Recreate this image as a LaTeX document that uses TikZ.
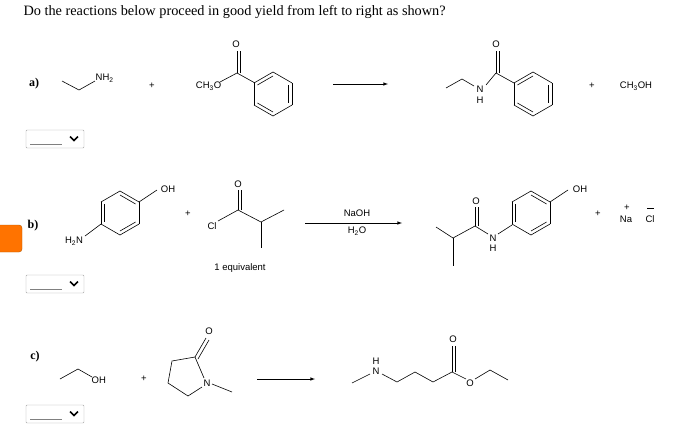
\documentclass[tikz,border=0pt]{standalone}
\usepackage{fontspec}
\setmainfont{Liberation Sans}
\newfontfamily\serifx{Liberation Serif}
\tikzset{bd/.style={line width=0.6pt},lab/.style={inner sep=0.5pt,font=\fontsize{9.5}{10}\selectfont},
 rxarrow/.style={line width=0.6pt,-latex},dd/.style={draw=gray!70,fill=white,rounded corners=1pt}}
\newcommand{\benzx}[2]{% center, inner-bond edges
 \foreach \i in {0,...,5}{\draw[bd] ($(#1)+(90+60*\i:22)$) -- ($(#1)+(150+60*\i:22)$);}
 \foreach \i in {#2}{\draw[bd] ($(#1)+(90+60*\i:18)$) -- ($(#1)+(150+60*\i:18)$);}}
\newcommand{\dropdown}[1]{\draw[dd] (26,#1) rectangle (84,#1+18);
 \draw[gray,line width=1pt] (30,#1+14) -- (62,#1+14);
 \draw[line width=1.6pt] (70,#1+6.5) -- (74,#1+10.5) -- (78,#1+6.5);}
\usetikzlibrary{calc}
\begin{document}
\begin{tikzpicture}[x=1pt,y=-1pt]
\useasboundingbox (0,0) rectangle (677,437);
\node[anchor=west,font=\serifx\fontsize{14.3}{15}\selectfont] (title) at (20,12) {Do the reactions below proceed in good yield from left to right as shown?};
% a
\node[font=\serifx\bfseries\fontsize{12}{13}\selectfont] (la) at (34,84) {a)};
\draw[bd] (62,81) -- (79,90) -- (95,81);
\node[lab,anchor=west] (nh2) at (95,78) {NH\textsubscript{2}};
\node[lab] at (152,86) {+};
\node[lab,anchor=east] (och3) at (222,86) {CH\textsubscript{3}O};
\draw[bd] (220,82) -- (237,73);
\draw[bd] (237,73) -- (237,51); \draw[bd] (240,73) -- (240,51);
\node[lab] at (236,44) {O};
\draw[bd] (237,73) -- (255,83);
\benzx{273,94}{0,2,4}
\draw[rxarrow] (333,84) -- (388,84);
\draw[bd] (446,88) -- (462,79) -- (474,86);
\node[lab] at (480,89) {N}; \node[lab] at (480,100) {H};
\draw[bd] (486,85) -- (496,73);
\draw[bd] (496,73) -- (496,51); \draw[bd] (499,73) -- (499,51);
\node[lab] at (496,44) {O};
\draw[bd] (496,73) -- (514,83);
\benzx{533,94}{0,2,4}
\node[lab] at (592,86) {+};
\node[lab] at (636,86) {CH\textsubscript{3}OH};
\dropdown{130}
% b
\draw[fill=orange!90!red,draw=orange!70!black,rounded corners=3pt] (-6,225) rectangle (22,252);
\node[font=\serifx\bfseries\fontsize{12}{13}\selectfont] (lb) at (33,226) {b)};
\benzx{120,213}{1,3,5}
\node[lab] (h2n) at (74,241) {H\textsubscript{2}N};
\draw[bd] (85,236) -- (101,224);
\draw[bd] (139,202) -- (157,190);
\node[lab] at (168,189) {OH};
\node[lab] at (188,214) {+};
\node[lab] at (212,226) {Cl};
\draw[bd] (218,221) -- (238,210);
\draw[bd] (238,210) -- (238,190); \draw[bd] (241,210) -- (241,190);
\node[lab] at (238,184) {O};
\draw[bd] (238,210) -- (261,222) -- (284,210);
\draw[bd] (261,222) -- (261,248);
\node[lab] at (240,268) {1 equivalent};
\draw[rxarrow] (305,223) -- (402,223);
\node[lab] at (357,213) {NaOH}; \node[lab] at (357,231) {H\textsubscript{2}O};
\draw[bd] (436,227) -- (453,238) -- (475,226);
\draw[bd] (453,238) -- (453,266);
\draw[bd] (475,226) -- (475,207); \draw[bd] (478,226) -- (478,207);
\node[lab] at (476,201) {O};
\draw[bd] (475,226) -- (488,234);
\node[lab] at (493,238) {N}; \node[lab] at (493,248) {H};
\draw[bd] (498,234) -- (512,225);
\benzx{531,213}{1,3,5}
\draw[bd] (550,202) -- (568,190);
\node[lab] at (580,189) {OH};
\node[lab] at (598,214) {+};
\node[lab] at (626,219) {Na}; \node[lab] at (627,208) {+};
\node[lab] at (650,219) {Cl}; \draw[bd] (647,208) -- (654,208);
\dropdown{275}
% c
\node[font=\serifx\bfseries\fontsize{12}{13}\selectfont] (lc) at (35,357) {c)};
\draw[bd] (60,379) -- (78,369) -- (92,377);
\node[lab,anchor=west] at (91,380) {OH};
\node[lab] at (144,379) {+};
\draw[bd] (202,387) -- (188,396) -- (168,383) -- (172,361) -- (195,357) -- (204,378);
\draw[bd] (195,357) -- (206,338); \draw[bd] (198,359) -- (209,340);
\node[lab] at (209,331) {O};
\node[lab] at (207,383) {N};
\draw[bd] (212,384) -- (232,392);
\draw[rxarrow] (257,379) -- (315,379);
\draw[bd] (352,383) -- (370,374);
\node[lab] at (376,371) {N}; \node[lab] at (376,361) {H};
\draw[bd] (382,374) -- (397,382) -- (415,372) -- (433,382) -- (452,372);
\draw[bd] (452,372) -- (452,346); \draw[bd] (455,372) -- (455,346);
\node[lab] at (453,339) {O};
\draw[bd] (452,372) -- (466,379);
\node[lab] at (470,383) {O};
\draw[bd] (475,379) -- (490,370) -- (508,380);
\dropdown{405}
\end{tikzpicture}
\end{document}
